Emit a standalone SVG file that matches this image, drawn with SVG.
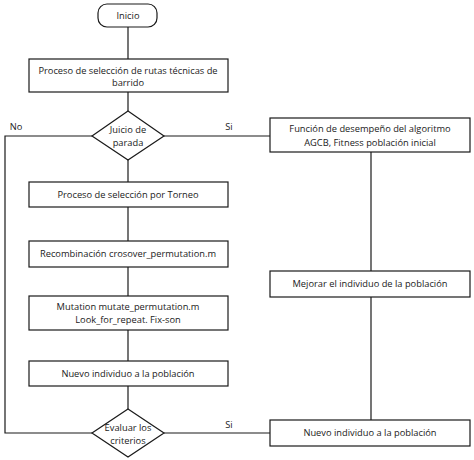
<svg xmlns="http://www.w3.org/2000/svg" width="474" height="460" viewBox="0 0 474 460">
<style>
.n{fill:#fff;stroke:#1a1a1a;stroke-width:1.2}
.c{fill:none;stroke:#1a1a1a;stroke-width:1.2}
text{font-family:"Open Sans","Liberation Sans",sans-serif;font-size:9.3px;fill:#1a1a1a;text-anchor:middle}
</style>
<rect width="474" height="460" fill="#fff"/>
<g id="connectors">
<path class="c" d="M128,27V59"/>
<path class="c" d="M128,92V111"/>
<path class="c" d="M92,136H5V433H92"/>
<path class="c" d="M164,136H270"/>
<path class="c" d="M128,160V182"/>
<path class="c" d="M128,207V241"/>
<path class="c" d="M128,267V296"/>
<path class="c" d="M128,330V361"/>
<path class="c" d="M128,386V409"/>
<path class="c" d="M164,433H270"/>
<path class="c" d="M371,152V271"/>
<path class="c" d="M371,297V420"/>
<text x="16" y="130">No</text>
<text x="229" y="130">Si</text>
<text x="229" y="428">Si</text>
</g>
<g id="inicio"><rect class="n" x="98" y="4" width="59" height="23" rx="9"/><text x="128" y="19">Inicio</text></g>
<g id="proceso-rutas"><rect class="n" x="29" y="59" width="199" height="33"/><text x="128" y="74">Proceso de selección de rutas técnicas de</text><text x="128" y="86">barrido</text></g>
<g id="juicio"><polygon class="n" points="128,111 164,136 128,160 92,136"/><text x="128" y="133">Juicio de</text><text x="128" y="146">parada</text></g>
<g id="funcion"><rect class="n" x="270" y="118" width="200" height="34"/><text x="370" y="132">Función de desempeño del algoritmo</text><text x="370" y="146">AGCB, Fitness población inicial</text></g>
<g id="torneo"><rect class="n" x="29" y="182" width="199" height="25"/><text x="128" y="198">Proceso de selección por Torneo</text></g>
<g id="recombinacion"><rect class="n" x="29" y="241" width="199" height="26"/><text x="128" y="257">Recombinación crosover_permutation.m</text></g>
<g id="mutation"><rect class="n" x="29" y="296" width="199" height="34"/><text x="128" y="310">Mutation mutate_permutation.m</text><text x="128" y="323">Look_for_repeat. Fix-son</text></g>
<g id="nuevo-izq"><rect class="n" x="29" y="361" width="199" height="25"/><text x="128" y="377">Nuevo individuo a la población</text></g>
<g id="evaluar"><polygon class="n" points="128,409 164,433 128,457 92,433"/><text x="128" y="431">Evaluar los</text><text x="128" y="444">criterios</text></g>
<g id="mejorar"><rect class="n" x="270" y="271" width="200" height="26"/><text x="370" y="287">Mejorar el individuo de la población</text></g>
<g id="nuevo-der"><rect class="n" x="270" y="420" width="200" height="26"/><text x="370" y="436">Nuevo individuo a la población</text></g>
</svg>
